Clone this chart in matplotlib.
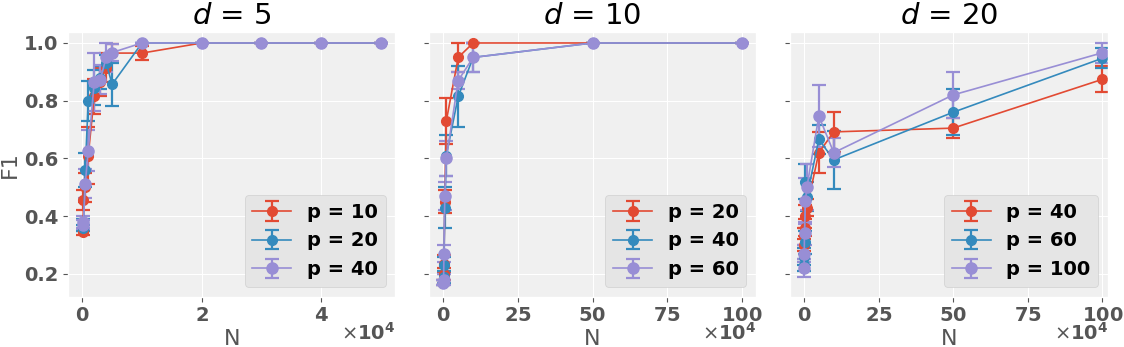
import numpy as np
import matplotlib
matplotlib.use('Agg')
import matplotlib.pyplot as plt

plt.style.use('ggplot')

# ---- data (N values, F1 means and std) ----
n_d5 = [100, 200, 500, 1000, 2000, 3000, 4000, 5000, 10000, 20000, 30000, 40000, 50000]
f1_d5_p10 = [0.345, 0.455, 0.50, 0.61, 0.815, 0.865, 0.915, 0.965, 0.965, 1.0, 1.0, 1.0, 1.0]
f1_d5_p20 = [0.36, 0.37, 0.56, 0.80, 0.845, 0.88, 0.93, 0.857, 1.0, 1.0, 1.0, 1.0, 1.0]
f1_d5_p40 = [0.37, 0.38, 0.512, 0.627, 0.865, 0.872, 0.95, 0.967, 1.0, 1.0, 1.0, 1.0, 1.0]
sd_d5_p10 = [0.01, 0.035, 0.05, 0.10, 0.06, 0.05, 0.05, 0.03, 0.025, 0, 0, 0, 0]
sd_d5_p20 = [0.01, 0.02, 0.06, 0.07, 0.06, 0.04, 0.03, 0.075, 0, 0, 0, 0, 0]
sd_d5_p40 = [0.015, 0.02, 0.05, 0.07, 0.10, 0.05, 0.05, 0.03, 0, 0, 0, 0, 0]

n_d10 = [500, 1000, 2000, 5000, 10000, 50000, 100000, 500000, 1000000]
f1_d10_p20 = [0.17, 0.20, 0.235, 0.45, 0.73, 0.95, 1.0, 1.0, 1.0]
f1_d10_p40 = [0.17, 0.19, 0.23, 0.43, 0.61, 0.815, 0.95, 1.0, 1.0]
f1_d10_p60 = [0.17, 0.18, 0.27, 0.47, 0.60, 0.87, 0.95, 1.0, 1.0]
sd_d10_p20 = [0.01, 0.02, 0.03, 0.04, 0.08, 0.05, 0, 0, 0]
sd_d10_p40 = [0.01, 0.02, 0.03, 0.07, 0.07, 0.105, 0.05, 0, 0]
sd_d10_p60 = [0.01, 0.02, 0.03, 0.05, 0.06, 0.03, 0.05, 0, 0]

n_d20 = [500, 1000, 2000, 5000, 10000, 50000, 100000, 500000, 1000000]
f1_d20_p40 = [0.30, 0.33, 0.36, 0.40, 0.43, 0.62, 0.692, 0.705, 0.874]
f1_d20_p60 = [0.23, 0.26, 0.31, 0.52, 0.468, 0.666, 0.595, 0.76, 0.947]
f1_d20_p100 = [0.22, 0.27, 0.34, 0.453, 0.50, 0.747, 0.62, 0.82, 0.966]
sd_d20_p40 = [0.02, 0.03, 0.03, 0.04, 0.03, 0.07, 0.07, 0.035, 0.045]
sd_d20_p60 = [0.02, 0.03, 0.04, 0.06, 0.05, 0.05, 0.10, 0.08, 0.035]
sd_d20_p100 = [0.03, 0.03, 0.04, 0.08, 0.08, 0.107, 0.05, 0.08, 0.035]

panels = [
    ('$d$ = 5', n_d5, [(f1_d5_p10, sd_d5_p10, 'p = 10'), (f1_d5_p20, sd_d5_p20, 'p = 20'), (f1_d5_p40, sd_d5_p40, 'p = 40')],
     [0, 20000, 40000], (-2340, 52400)),
    ('$d$ = 10', n_d10, [(f1_d10_p20, sd_d10_p20, 'p = 20'), (f1_d10_p40, sd_d10_p40, 'p = 40'), (f1_d10_p60, sd_d10_p60, 'p = 60')],
     [0, 250000, 500000, 750000, 1000000], (-48000, 1048000)),
    ('$d$ = 20', n_d20, [(f1_d20_p40, sd_d20_p40, 'p = 40'), (f1_d20_p60, sd_d20_p60, 'p = 60'), (f1_d20_p100, sd_d20_p100, 'p = 100')],
     [0, 250000, 500000, 750000, 1000000], (-46600, 1019000)),
]
colors = ['#E24A33', '#348ABD', '#988ED5']

fig = plt.figure(figsize=(11.24, 3.47), dpi=100)
fig.patch.set_facecolor('white')
lefts = [68.3, 429, 790]
widths = [327, 327, 318]
axes = []
for i, (title, n, series, xt, xl) in enumerate(panels):
    ax = fig.add_axes([lefts[i] / 1124, 50.3 / 347, widths[i] / 1124, 264.4 / 347],
                      sharey=axes[0] if axes else None)
    axes.append(ax)
    ax.set_facecolor('#F0F0F0')
    for (f1, sd, lab), c in zip(series, colors):
        ms = 8 if c == '#988ED5' else 7
        ax.errorbar(n, f1, yerr=sd, color=c, marker='o', ms=ms, lw=1.2,
                    elinewidth=1.6, capsize=5, capthick=1.6, label=lab)
    ax.set_title(title, fontsize=21, color='black')
    ax.set_xlabel('N', fontsize=16, color='#555555', labelpad=2.5)
    ax.set_xticks(xt)
    ax.set_xlim(xl)
    ax.ticklabel_format(axis='x', style='sci', scilimits=(4, 4), useMathText=True)
    # scale factor sits right under the tick labels, right aligned
    ax.xaxis.get_offset_text().set_visible(False)
    ax.text(1.0, -0.095, r'$\times\mathbf{10^{4}}$', transform=ax.transAxes,
            ha='right', va='top', fontsize=14, color='#555555')
    ax.tick_params(labelsize=14)
    for t in ax.get_xticklabels() + ax.get_yticklabels():
        t.set_fontweight('bold')
    leg = ax.legend(loc='lower right', prop={'weight': 'bold', 'size': 14},
                    facecolor='#E5E5E5', edgecolor='#D0D0D0', framealpha=1)
    for t in leg.get_texts():
        t.set_color('black')

axes[0].set_ylim(0.121, 1.037)
axes[0].set_yticks([0.2, 0.4, 0.6, 0.8, 1.0])
axes[0].set_ylabel('F1', fontsize=16, color='#555555', labelpad=3)
for ax in axes[1:]:
    ax.tick_params(labelleft=False)

fig.savefig('out.png', dpi=100)
